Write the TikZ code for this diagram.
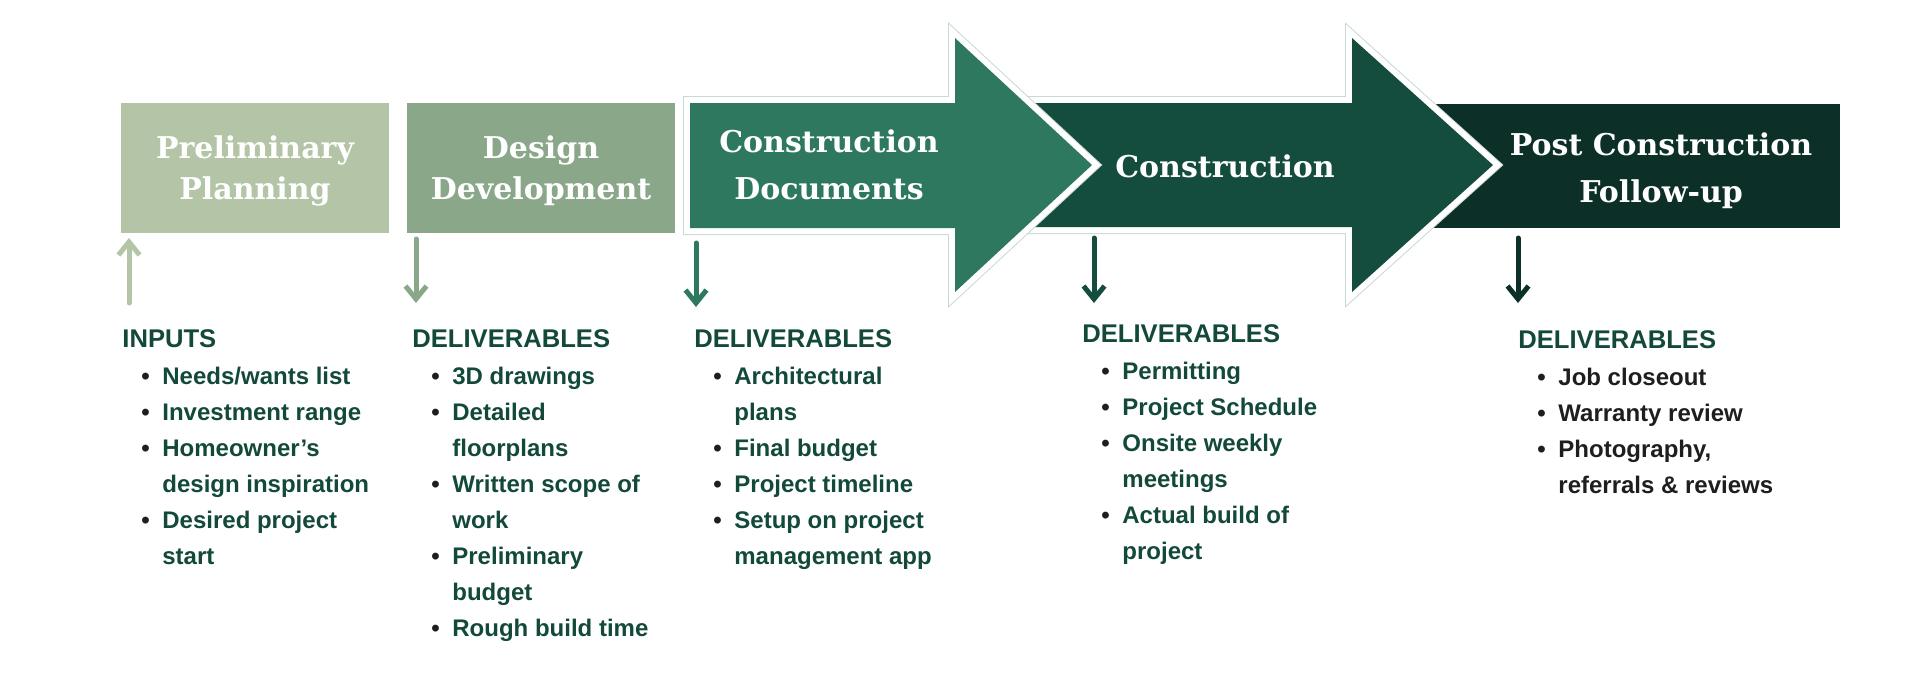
\documentclass[tikz,border=0pt]{standalone}
\usepackage{fontspec}
\setmainfont{Liberation Sans}
\newfontfamily\ttlfont{DejaVu Serif}
\usetikzlibrary{arrows.meta}
\definecolor{prelim}{HTML}{B3C4A7}
\definecolor{design}{HTML}{8AA78A}
\definecolor{cdocs}{HTML}{2F7860}
\definecolor{constr}{HTML}{144C3D}
\definecolor{post}{HTML}{0C3028}
\definecolor{txt}{HTML}{13493A}
\definecolor{dot}{HTML}{1E1E1E}
\definecolor{edge}{HTML}{C9D9D3}
\newcommand{\itm}[1]{\hspace*{9.5pt}\makebox[10.5pt][l]{\color{dot}\textbullet}#1}
\newcommand{\wrap}[1]{\hspace*{20pt}#1}
\begin{document}
\begin{tikzpicture}
[x=0.5pt, y=-0.5pt,
ttl/.style={text=white, align=center, inner sep=0, font=\fontsize{15}{20.5}\selectfont\ttlfont\bfseries},
stage/.style={fill=#1, preaction={draw=edge, line width=7pt}, preaction={draw=white, line width=6pt}},
head/.style={anchor=base west, inner sep=0, text=txt, font=\fontsize{12.8}{14}\selectfont\bfseries},
item/.style={anchor=base west, inner sep=0, text=#1, font=\fontsize{12}{14}\selectfont\bfseries},
item/.default=txt,
pointer/.style={draw=#1, line width=2.5pt, line cap=round, -{Straight Barb[length=6.5pt,width=10.5pt]}}
]
\useasboundingbox (0,0) rectangle (1920,696);
\fill[prelim] (121,103) rectangle (389,233);
\fill[design] (407,103) rectangle (675,233);
\fill[post] (1420,104) rectangle (1840,228);
\path[stage=constr] (990,103) -- (1352,103) -- (1352,38) -- (1493,165) -- (1352,292) -- (1352,227) -- (990,227) -- cycle;
\path[stage=cdocs] (690,103) -- (955,103) -- (955,38) -- (1092,165) -- (955,292) -- (955,228) -- (690,228) -- cycle;
\node[ttl] (pp) at (255,171) {Preliminary\\Planning};
\node[ttl] (dd) at (541,171) {Design\\Development};
\node[ttl] (cd) at (829,165) {Construction\\[3pt]Documents};
\node[ttl] (cn) at (1225,166) {Construction};
\node[ttl] (pc) at (1661,171) {Post Construction\\[3pt]Follow-up};
\foreach \n/\x/\a/\b/\c in {1/129/303/238/prelim, 2/416/239/303/design, 3/696/243/307/cdocs, 4/1094/238/303/constr, 5/1518/238/303/post}
{\coordinate (s\n) at (\x,\a);
\coordinate (e\n) at (\x,\b);
\draw[pointer=\c] (s\n) -- (e\n);}
\node[head] (in) at (122,347) {INPUTS};
\foreach \t [count=\i] in {{\itm{Needs/wants list}}, {\itm{Investment range}}, {\itm{Homeowner’s}}, {\wrap{design inspiration}}, {\itm{Desired project}}, {\wrap{start}}}
\node[item] (in\i) at (122,{348+36*\i}) {\t};
\node[head] (dv) at (412,347) {DELIVERABLES};
\foreach \t [count=\i] in {{\itm{3D drawings}}, {\itm{Detailed}}, {\wrap{floorplans}}, {\itm{Written scope of}}, {\wrap{work}}, {\itm{Preliminary}}, {\wrap{budget}}, {\itm{Rough build time}}}
\node[item] (dv\i) at (412,{348+36*\i}) {\t};
\node[head] (cdv) at (694,347) {DELIVERABLES};
\foreach \t [count=\i] in {{\itm{Architectural}}, {\wrap{plans}}, {\itm{Final budget}}, {\itm{Project timeline}}, {\itm{Setup on project}}, {\wrap{management app}}}
\node[item] (cdv\i) at (694,{348+36*\i}) {\t};
\node[head] (cnv) at (1082,342) {DELIVERABLES};
\foreach \t [count=\i] in {{\itm{Permitting}}, {\itm{Project Schedule}}, {\itm{Onsite weekly}}, {\wrap{meetings}}, {\itm{Actual build of}}, {\wrap{project}}}
\node[item] (cnv\i) at (1082,{343+36*\i}) {\t};
\node[head] (pcv) at (1518,348) {DELIVERABLES};
\foreach \t [count=\i] in {{\itm{Job closeout}}, {\itm{Warranty review}}, {\itm{Photography,}}, {\wrap{referrals \& reviews}}}
\node[item=dot] (pcv\i) at (1518,{349+36*\i}) {\t};
\end{tikzpicture}
\end{document}
